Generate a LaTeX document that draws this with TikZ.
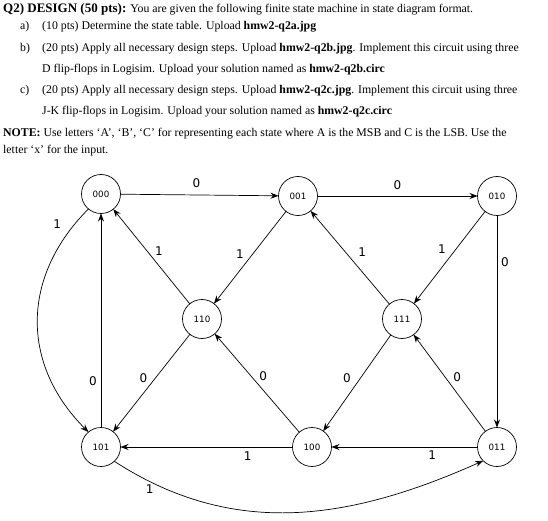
\documentclass[tikz,border=0pt]{standalone}
\usepackage{fontspec}
\setmainfont{Liberation Serif}
\newfontfamily\djv{DejaVu Sans}
\usetikzlibrary{arrows.meta}
\begin{document}
\begin{tikzpicture}[x=1pt,y=1pt,
  hdr/.style={anchor=base west, inner sep=0pt, font=\fontsize{11.8}{14}\selectfont},
  stnode/.style={circle, draw, line width=0.7pt, minimum size=39pt, inner sep=0pt, outer sep=0pt, font=\djv\fontsize{8.7}{10}\selectfont},
  arr/.style={line width=0.7pt, -{Stealth[length=8pt,width=6pt]}},
  lbl/.style={font=\djv\fontsize{12}{14}\selectfont, inner sep=0pt}]
\useasboundingbox (0,0) rectangle (548,-521);
% header
\node[hdr] (h1) at (3,-13) {{\fontsize{13}{15}\selectfont\bfseries Q2) DESIGN (50 pts):} You are given the following finite state machine in state diagram format.};
\node[hdr] (h2a) at (20,-30) {a)};
\node[hdr] (h2) at (42,-30) {(10 pts) Determine the state table. Upload \textbf{hmw2-q2a.jpg}};
\node[hdr] (h3a) at (20,-52) {b)};
\node[hdr] (h3) at (42,-52) {(20 pts) Apply all necessary design steps. Upload \textbf{hmw2-q2b.jpg}. Implement this circuit using three};
\node[hdr] (h4) at (42,-73) {D flip-flops in Logisim. Upload your solution named as \textbf{hmw2-q2b.circ}};
\node[hdr] (h5a) at (20,-94) {c)};
\node[hdr] (h5) at (42,-94) {(20 pts) Apply all necessary design steps. Upload \textbf{hmw2-q2c.jpg}. Implement this circuit using three};
\node[hdr] (h6) at (42,-115) {J-K flip-flops in Logisim. Upload your solution named as \textbf{hmw2-q2c.circ}};
\node[hdr] (h7) at (3,-137) {\textbf{NOTE:} Use letters ‘A’, ‘B’, ‘C’ for representing each state where A is the MSB and C is the LSB. Use the};
\node[hdr] (h8) at (3,-154) {letter ‘x’ for the input.};
% states
\node[stnode] (s000) at (101,-194) {000};
\node[stnode] (s001) at (298,-196) {001};
\node[stnode] (s010) at (497,-196) {010};
\node[stnode] (s110) at (202,-319) {110};
\node[stnode] (s111) at (402,-319) {111};
\node[stnode] (s101) at (101,-447) {101};
\node[stnode] (s100) at (312,-447) {100};
\node[stnode] (s011) at (497,-447) {011};
% transitions
\draw[arr] (s000) -- node[lbl, pos=0.48, yshift=12pt]{0} (s001);
\draw[arr] (s001) -- node[lbl, pos=0.50, yshift=11pt]{0} (s010);
\draw[arr] (s010) -- node[lbl, pos=0.22, xshift=8pt]{0} (s011);
\draw[arr] (s001) -- node[lbl, pos=0.46, xshift=-13pt]{1} (s110);
\draw[arr] (s110) -- node[lbl, pos=0.56, xshift=12pt]{1} (s000);
\draw[arr] (s010) -- node[lbl, pos=0.41, xshift=-14pt]{1} (s111);
\draw[arr] (s111) -- node[lbl, pos=0.56, xshift=17pt]{1} (s001);
\draw[arr] (s110) -- node[lbl, pos=0.45, xshift=-12pt]{0} (s101);
\draw[arr] (s100) -- node[lbl, pos=0.57, xshift=12pt]{0} (s110);
\draw[arr] (s111) -- node[lbl, pos=0.45, xshift=-13.5pt]{0} (s100);
\draw[arr] (s011) -- node[lbl, pos=0.56, xshift=12pt]{0} (s111);
\draw[arr] (s101) -- node[lbl, pos=0.216, xshift=-8pt]{0} (s000);
\draw[arr] (s100) -- node[lbl, pos=0.26, yshift=-9pt]{1} (s101);
\draw[arr] (s011) -- node[lbl, pos=0.31, yshift=-8pt]{1} (s100);
\draw[arr] (s000.230) to[out=225, in=135, looseness=1.1] node[lbl, pos=0.1, xshift=-13pt, yshift=6pt]{1} (s101.130);
\draw[arr] (s101.-47) to[out=-33, in=-156] node[lbl, pos=0.12, xshift=-8pt, yshift=-4pt]{1} (s011.-135);
\end{tikzpicture}
\end{document}
